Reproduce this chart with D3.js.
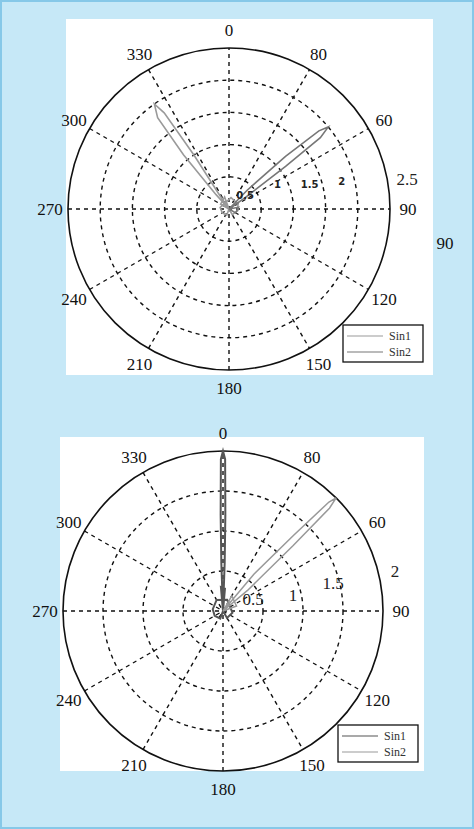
<!DOCTYPE html>
<html>
<head>
<meta charset="utf-8">
<script src="https://cdn.jsdelivr.net/npm/d3@7"></script>
<style>
body { margin:0; background:#c6e8f7; }
svg { display:block; }
</style>
</head>
<body>
<svg id="chart" width="474" height="829"></svg>
<script>
// angle tick labels, clockwise from north every 30 deg (as printed)
var angleLabels = ["0","80","60","90","120","150","180","210","240","270","300","330"];

// top plot
var topRings = [0.5, 1, 1.5, 2, 2.5];
var topRingLabels = ["0.5","1","1.5","2","2.5"];
// [angle deg, radius]
var topSin1 = [[0,0],[318,0.3],[320,1.1],[322,1.8],[324.6,2.0],[326,1.8],[327,1.0],[326,0.3],[0,0],[300,0.15],[340,0.2],[0,0]];
var topSin2 = [[0,0],[44,0.4],[47,1.2],[49,1.85],[50.4,2.0],[52,1.8],[53,1.1],[55,0.3],[0,0],[80,0.15],[120,0.12],[0,0]];
var topClutter = [[0,0],[200,0.1],[240,0.12],[280,0.14],[10,0.18],[60,0.16],[100,0.14],[150,0.1],[0,0]];

// bottom plot
var botRings = [0.5, 1, 1.5, 2];
var botRingLabels = ["0.5","1","1.5","2"];
var botSin1 = [[0,0],[358,0.6],[358.6,1.2],[359.2,1.9],[0,2.0],[0.8,1.9],[1.4,1.2],[2,0.6],[0,0],[355,0.3],[5,0.28],[0,0]];
var botSin2 = [[0,0],[40,0.6],[43,1.3],[44.2,1.9],[45,2.0],[46,1.85],[47,1.2],[50,0.4],[0,0],[70,0.18],[30,0.22],[0,0]];
var botClutter = [[0,0],[200,0.1],[240,0.12],[280,0.13],[330,0.16],[20,0.15],[100,0.12],[150,0.1],[0,0]];

var svg = d3.select("#chart");
svg.append("rect").attr("x",1).attr("y",1).attr("width",472).attr("height",827)
  .attr("fill","#c6e8f7").attr("stroke","#86c8e8").attr("stroke-width",2);

function polar(cfg) {
  svg.append("rect").attr("x",cfg.box[0]).attr("y",cfg.box[1])
    .attr("width",cfg.box[2]).attr("height",cfg.box[3]).attr("fill","#fff");
  var g = svg.append("g").attr("transform","translate("+cfg.cx+","+cfg.cy+")");
  var r = d3.scaleLinear().domain([0, cfg.max]).range([0, cfg.R]);
  var rad = function(a){ return a*Math.PI/180; };

  // dashed rings
  g.selectAll(".ring").data(cfg.rings.slice(0,-1)).enter().append("circle")
    .attr("r", function(d){ return r(d); })
    .attr("fill","none").attr("stroke","#111").attr("stroke-width",1.4)
    .attr("stroke-dasharray","4,4");
  // spokes
  g.selectAll(".spoke").data(d3.range(0,180,30)).enter().append("line")
    .attr("x1", function(d){ return -cfg.R*Math.sin(rad(d)); })
    .attr("y1", function(d){ return cfg.R*Math.cos(rad(d)); })
    .attr("x2", function(d){ return cfg.R*Math.sin(rad(d)); })
    .attr("y2", function(d){ return -cfg.R*Math.cos(rad(d)); })
    .attr("stroke","#111").attr("stroke-width",1.4).attr("stroke-dasharray","4,4");
  g.append("circle").attr("r",cfg.R).attr("fill","none").attr("stroke","#111").attr("stroke-width",1.6);

  var line = d3.lineRadial()
    .angle(function(d){ return rad(d[0]); })
    .radius(function(d){ return r(d[1]); });
  cfg.series.forEach(function(s){
    g.append("path").attr("d", line(s.data)).attr("fill","none")
      .attr("stroke", s.color).attr("stroke-width", s.w);
  });

  // angle labels
  g.selectAll(".al").data(angleLabels).enter().append("text")
    .attr("x", function(d,i){ return (cfg.R+cfg.off)*Math.sin(rad(i*30)); })
    .attr("y", function(d,i){ return -(cfg.R+cfg.off)*Math.cos(rad(i*30)) + 6; })
    .attr("text-anchor","middle").attr("font-family","Liberation Serif, serif")
    .attr("font-size",17).attr("fill","#111").text(function(d){ return d; });

  // radial labels
  g.selectAll(".rl").data(cfg.ringLabels).enter().append("text")
    .attr("x", function(d,i){ return r(cfg.rings[i]) + cfg.rlDx; })
    .attr("y", function(d,i){ return cfg.rlY[i]; })
    .attr("text-anchor","middle").attr("font-family", cfg.rlFont)
    .attr("font-size", cfg.rlSize).attr("font-weight", cfg.rlWeight)
    .attr("fill","#222").text(function(d){ return d; });

  // legend
  var lg = svg.append("g").attr("transform","translate("+cfg.legend[0]+","+cfg.legend[1]+")");
  lg.append("rect").attr("width",80).attr("height",37).attr("fill","#fff").attr("stroke","#111").attr("stroke-width",1.3);
  ["Sin1","Sin2"].forEach(function(n,i){
    lg.append("line").attr("x1",4).attr("x2",40).attr("y1",11+i*16).attr("y2",11+i*16)
      .attr("stroke", cfg.series[i].color).attr("stroke-width",1.2);
    lg.append("text").attr("x",46).attr("y",15+i*16).attr("font-family","Liberation Serif, serif")
      .attr("font-size",12).attr("fill","#333").text(n);
  });
}

polar({box:[66,19,367,356], cx:229, cy:209, R:161, max:2.5, off:18,
  rings:topRings, ringLabels:topRingLabels,
  rlDx:-16, rlY:[-10,-21,-21,-24,-26], rlFont:"DejaVu Sans, sans-serif", rlSize:10, rlWeight:"bold",
  series:[{data:topSin1.concat(topClutter), color:"#9a9a9a", w:1.6},
          {data:topSin2, color:"#777", w:1.6}],
  legend:[343,325]});
// override 2.5 label to normal serif like reference
svg.selectAll("text").filter(function(){ return d3.select(this).text()==="2.5"; })
  .attr("font-family","Liberation Serif, serif").attr("font-size",17).attr("font-weight","normal")
  .attr("x", 178).attr("y", -24);
svg.append("text").attr("x",445).attr("y",249).attr("text-anchor","middle")
  .attr("font-family","Liberation Serif, serif").attr("font-size",17).attr("fill","#111").text("90");

polar({box:[60,437,364,334], cx:223, cy:611, R:160, max:2, off:18,
  rings:botRings, ringLabels:botRingLabels,
  rlDx:-10, rlY:[-6,-10,-22,-34], rlFont:"Liberation Serif, serif", rlSize:17, rlWeight:"normal",
  series:[{data:botSin1.concat(botClutter), color:"#555", w:2},
          {data:botSin2, color:"#999", w:1.5}],
  legend:[338,725]});
svg.selectAll("text").filter(function(){ return d3.select(this).text()==="2" && +d3.select(this).attr("y")===-34; })
  .attr("x", 172);
</script>
</body>
</html>
